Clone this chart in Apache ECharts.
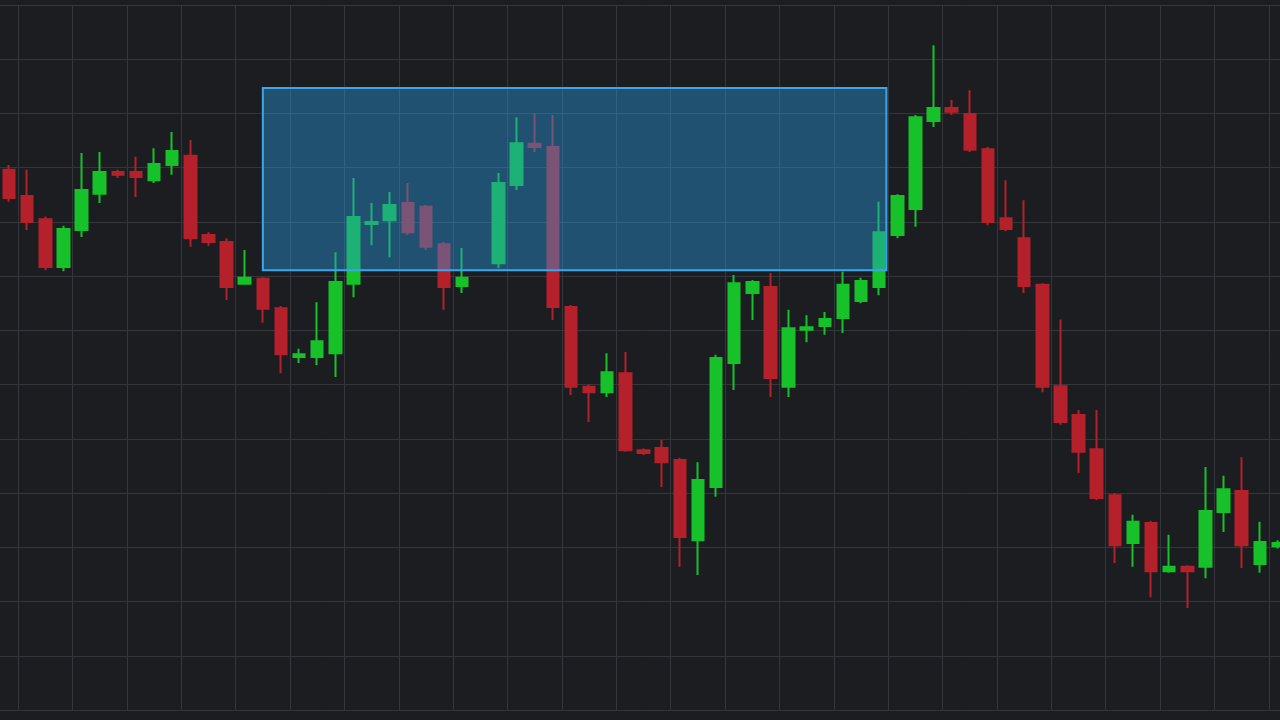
<!DOCTYPE html>
<html>
<head>
<meta charset="utf-8">
<title>Candles</title>
<script src="https://cdn.jsdelivr.net/npm/echarts@6/dist/echarts.min.js"></script>
<style>
  html, body { margin: 0; padding: 0; background: #1b1d21; overflow: hidden; }
  /* a bit wider than the window: the last candle is cut off at the right edge */
  #chart { width: 1287px; height: 720px; }
</style>
</head>
<body>
<div id="chart"></div>
<script>
// one candle per session, null = empty slot
const opens = [99.6, 94.8, 90.5, 81.7, 88.5, 95.2, 99.2, 99.2, 97.7, 100.5, 102.2, 87.6, 86.3, 78.6, 79.5, 74.1, 65.1, 65.1, 65.8, 78.6,
  89.6, 90.3, 93.5, 92.8, 85.9, 78.2, null, 82.4, 96.8, 104.4, 103.8, 74.3, 59.6, 58.6, 62.1, 47.9, 48.3, 46.1, 31.3, 41.1,
  64.0, 76.9, 78.0, 59.6, 70.1, 70.8, 72.3, 75.4, 78.0, 87.6, 92.4, 108.6, 111.0, 109.9, 103.4, 90.7, 87.0, 78.4, 59.7, 54.4,
  48.1, 39.6, 30.8, 34.5, 25.6, 26.4, 26.4, 36.5, 40.4, 26.9, 30.2];
const closes = [94.4, 90.0, 81.7, 88.7, 95.9, 99.2, 98.7, 98.3, 100.7, 103.1, 87.0, 86.3, 78.0, 79.7, 74.0, 65.6, 65.6, 68.0, 78.9, 90.9,
  90.0, 93.1, 88.1, 85.4, 78.0, 79.7, null, 97.2, 104.5, 103.8, 74.3, 59.6, 58.6, 62.3, 47.9, 47.4, 45.7, 31.9, 42.4, 64.9,
  78.7, 78.9, 61.2, 70.4, 70.6, 72.1, 78.4, 79.1, 88.1, 94.8, 109.3, 111.0, 110.3, 103.3, 90.0, 88.7, 78.2, 59.6, 53.1, 47.6,
  39.1, 30.4, 34.7, 25.6, 26.4, 25.6, 36.7, 40.7, 30.4, 31.0, 30.8];
const lows = [93.7, 88.5, 81.1, 80.9, 87.2, 93.5, 98.1, 94.6, 97.2, 98.7, 85.4, 85.6, 75.6, 78.4, 71.4, 62.1, 64.0, 63.6, 61.4, 76.1,
  85.7, 83.5, 87.6, 84.8, 73.8, 76.9, null, 81.5, 95.9, 102.9, 71.9, 58.1, 53.1, 57.7, 47.6, 47.0, 41.1, 26.4, 24.9, 39.3,
  59.0, 71.9, 57.7, 57.7, 67.8, 69.2, 69.5, 75.0, 76.5, 87.0, 89.1, 107.5, 109.7, 102.9, 89.4, 88.3, 76.9, 58.6, 52.6, 43.7,
  38.7, 27.1, 26.4, 20.8, 25.3, 18.8, 24.3, 32.8, 26.2, 25.3, 29.8];
const highs = [100.5, 99.6, 91.0, 89.3, 102.7, 102.9, 99.6, 102.0, 103.6, 106.6, 105.1, 88.1, 87.0, 84.8, 79.8, 74.5, 66.6, 75.2, 84.4, 98.1,
  93.5, 95.5, 97.2, 93.1, 86.3, 85.2, null, 99.0, 109.3, 110.1, 109.7, 74.7, 60.0, 65.8, 66.0, 48.2, 49.8, 46.5, 45.7, 65.5,
  80.2, 79.3, 80.6, 73.8, 72.8, 73.4, 80.8, 79.7, 93.7, 95.1, 109.7, 122.6, 112.5, 114.3, 103.8, 97.7, 94.0, 78.7, 72.0, 55.3,
  55.3, 40.0, 36.0, 34.9, 32.3, 26.7, 44.8, 43.2, 46.6, 34.7, 31.3];
const sessions = opens.map((_, i) => 'S' + (i + 1));

// highlighted zone: slot position (left, right) and price band (low, high)
const zoneSlots = [14.5, 48.9];
const zonePrices = [81.1, 114.7];

const candleData = opens.map((o, i) => o === null ? '-' : [o, closes[i], lows[i], highs[i]]);

const chart = echarts.init(document.getElementById('chart'));
chart.setOption({
  backgroundColor: '#1b1d21',
  animation: false,
  grid: { left: 0, right: 0, top: 5, bottom: 10 },
  xAxis: [
    {
      type: 'category',
      data: sessions,
      boundaryGap: true,
      axisLine: { show: false },
      axisTick: { show: false },
      axisLabel: { show: false },
      splitLine: {
        show: true,
        interval: (index) => index % 3 === 1,
        lineStyle: { color: '#33363b', width: 1 }
      }
    },
    {
      type: 'value',
      min: 0,
      max: sessions.length,
      show: false
    }
  ],
  yAxis: {
    type: 'value',
    min: 0,
    max: 130,
    interval: 10,
    axisLine: { show: false },
    axisTick: { show: false },
    axisLabel: { show: false },
    splitLine: { lineStyle: { color: '#33363b', width: 1 } }
  },
  series: [
    {
      type: 'candlestick',
      data: candleData,
      barWidth: 12,
      itemStyle: {
        color: '#16c12a',
        color0: '#b5212a',
        borderColor: '#16c12a',
        borderColor0: '#b5212a',
        borderWidth: 2
      }
    },
    {
      // carrier for the highlighted zone
      type: 'line',
      xAxisIndex: 1,
      data: [],
      markArea: {
        silent: true,
        z: 5,
        itemStyle: {
          color: 'rgba(40, 155, 225, 0.42)',
          borderColor: '#3ca6ea',
          borderWidth: 2
        },
        data: [[
          { coord: [zoneSlots[0], zonePrices[1]] },
          { coord: [zoneSlots[1], zonePrices[0]] }
        ]]
      }
    }
  ]
});
</script>
</body>
</html>
